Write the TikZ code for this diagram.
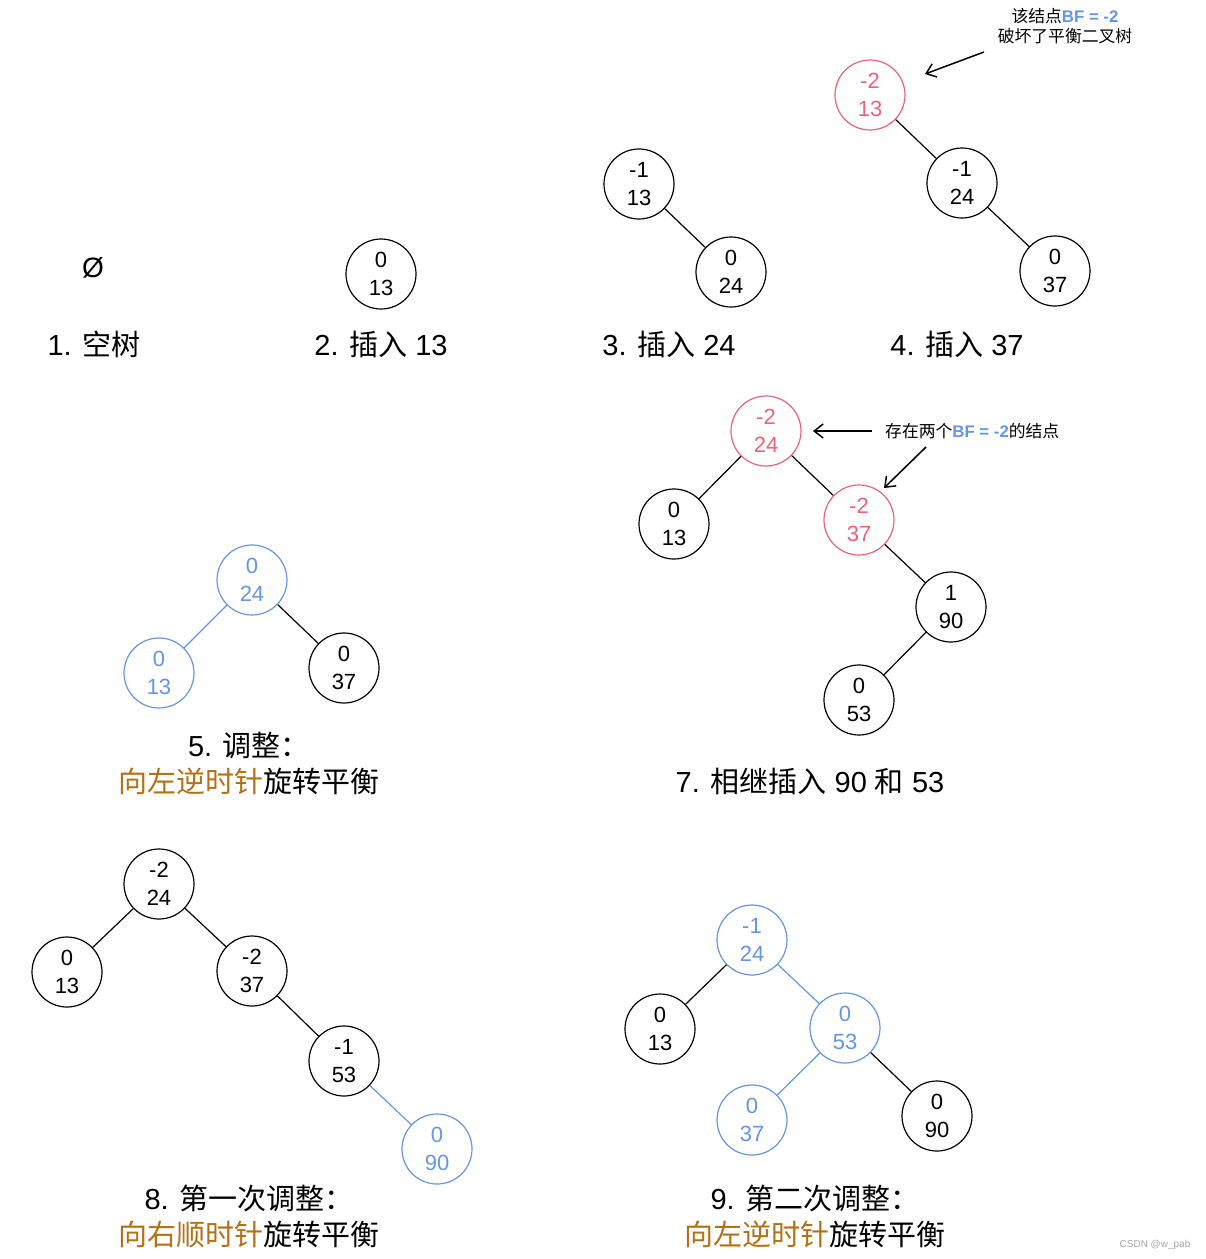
\documentclass[tikz,border=0pt]{standalone}
\usepackage{fontspec}
\setmainfont{Liberation Sans}
\newfontfamily\cjk{Noto Sans CJK SC}
\usetikzlibrary{arrows.meta}
\definecolor{redc}{RGB}{234,98,122}
\definecolor{bluec}{RGB}{100,149,230}
\definecolor{brownc}{RGB}{180,112,20}
\tikzset{
  nd/.style={circle, draw, minimum size=70pt, inner sep=0pt, line width=1.2pt,
    font=\fontsize{22}{27.5}\selectfont, align=center},
  rednd/.style={nd, draw=redc, text=redc},
  bluend/.style={nd, draw=bluec, text=bluec},
  edge/.style={line width=1.2pt},
  blueedge/.style={line width=1.2pt, draw=bluec},
  lbl/.style={font=\fontsize{29}{36}\selectfont, align=center, inner sep=0pt},
  note/.style={font=\fontsize{16.8}{20}\selectfont, align=center, inner sep=0pt},
  arr/.style={line width=1.5pt, -{Straight Barb[length=9pt,width=14pt]}}
}
\newcommand{\cj}[1]{{\cjk #1}}
\begin{document}
\begin{tikzpicture}[x=1pt,y=-1pt]
\useasboundingbox (0,0) rectangle (1206,1259);

% 1
\node[font=\fontsize{28}{30}\selectfont, inner sep=0pt] (empty) at (93,268) {Ø};
\node[lbl] (l1) at (94,344) {1. \cj{空树}};

% 2
\node[nd] (b13) at (381,274) {0\\13};
\node[lbl] (l2) at (381,344) {2. \cj{插入} 13};

% 3
\node[nd] (c13) at (639,184) {-1\\13};
\node[nd] (c24) at (731,272) {0\\24};
\draw[edge] (c13) -- (c24);
\node[lbl] (l3) at (669,344) {3. \cj{插入} 24};

% 4
\node[rednd] (d13) at (870,95) {-2\\13};
\node[nd] (d24) at (962,183) {-1\\24};
\node[nd] (d37) at (1055,271) {0\\37};
\draw[edge] (d13) -- (d24);
\draw[edge] (d24) -- (d37);
\node[lbl] (l4) at (957,344) {4. \cj{插入} 37};
\node[note] (n1) at (1065,26) {\cj{该结点}\textcolor{bluec}{\textbf{BF = -2}}\\\cj{破坏了平衡二叉树}};
\coordinate (n1s) at (984,52);
\coordinate (n1e) at (925,74);
\draw[arr] (n1s) -- (n1e);

% 5
\node[bluend] (e24) at (252,580) {0\\24};
\node[bluend] (e13) at (159,673) {0\\13};
\node[nd] (e37) at (344,668) {0\\37};
\draw[blueedge] (e24) -- (e13);
\draw[edge] (e24) -- (e37);
\node[lbl] (l5) at (249,763) {5. \cj{调整：}\\\cj{\textcolor{brownc}{向左逆时针}旋转平衡}};

% 7
\node[rednd] (f24) at (766,431) {-2\\24};
\node[nd] (f13) at (674,524) {0\\13};
\node[rednd] (f37) at (859,520) {-2\\37};
\node[nd] (f90) at (951,607) {1\\90};
\node[nd] (f53) at (859,700) {0\\53};
\draw[edge] (f24) -- (f13);
\draw[edge] (f24) -- (f37);
\draw[edge] (f37) -- (f90);
\draw[edge] (f90) -- (f53);
\node[lbl] (l7) at (810,781) {7. \cj{相继插入} 90 \cj{和} 53};
\node[note, anchor=west] (n2) at (885,431) {\cj{存在两个}\textcolor{bluec}{\textbf{BF = -2}}\cj{的结点}};
\coordinate (n2a) at (872,431);
\coordinate (n2b) at (813,431);
\coordinate (n2c) at (926,447);
\coordinate (n2d) at (884,488);
\draw[arr] (n2a) -- (n2b);
\draw[arr] (n2c) -- (n2d);

% 8
\node[nd] (g24) at (159,884) {-2\\24};
\node[nd] (g13) at (67,972) {0\\13};
\node[nd] (g37) at (252,971) {-2\\37};
\node[nd] (g53) at (344,1061) {-1\\53};
\node[bluend] (g90) at (437,1149) {0\\90};
\draw[edge] (g24) -- (g13);
\draw[edge] (g24) -- (g37);
\draw[edge] (g37) -- (g53);
\draw[blueedge] (g53) -- (g90);
\node[lbl] (l8) at (249,1216) {8. \cj{第一次调整：}\\\cj{\textcolor{brownc}{向右顺时针}旋转平衡}};

% 9
\node[bluend] (h24) at (752,940) {-1\\24};
\node[nd] (h13) at (660,1029) {0\\13};
\node[bluend] (h53) at (845,1028) {0\\53};
\node[bluend] (h37) at (752,1120) {0\\37};
\node[nd] (h90) at (937,1116) {0\\90};
\draw[edge] (h24) -- (h13);
\draw[blueedge] (h24) -- (h53);
\draw[blueedge] (h53) -- (h37);
\draw[edge] (h53) -- (h90);
\node[lbl] (l9) at (815,1216) {9. \cj{第二次调整：}\\\cj{\textcolor{brownc}{向左逆时针}旋转平衡}};

% watermark
\node[font=\fontsize{10}{12}\selectfont, text=gray!70, inner sep=0pt] (wm) at (1155,1245) {CSDN @w\_pab};
\end{tikzpicture}
\end{document}
